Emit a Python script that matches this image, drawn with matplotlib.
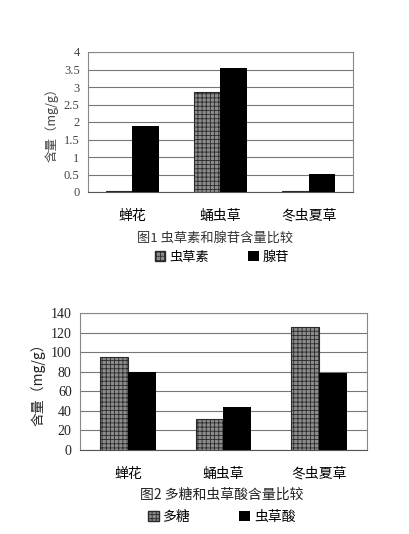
import numpy as np
import matplotlib.pyplot as plt
from matplotlib.patches import Patch

plt.rcParams['font.family'] = ['Noto Sans CJK SC', 'DejaVu Sans']
plt.rcParams['hatch.linewidth'] = 0.6

# 图1 数据
cats = ['蝉花', '蛹虫草', '冬虫夏草']
cordycepin = [0.02, 2.85, 0.03]
adenosine = [1.9, 3.55, 0.52]

# 图2 数据
polysaccharide = [95, 32, 126]
cordycepic_acid = [80, 44, 79]

W, H = 410, 534
fig = plt.figure(figsize=(W / 100, H / 100), dpi=100)


def px_axes(left, top, right, bottom):
    return fig.add_axes([left / W, 1 - bottom / H, (right - left) / W, (bottom - top) / H])


def draw_bars(ax, s1, s2, width):
    x = np.arange(len(cats))
    ax.bar(x - width / 2, s1, width, facecolor='#8c8c8c', edgecolor='#2a2a2a',
           hatch='++++', linewidth=0.8, zorder=3)
    ax.bar(x + width / 2, s2, width, color='black', zorder=3)
    ax.set_xlim(-0.5, len(cats) - 0.5)
    ax.set_xticks(x)
    ax.set_xticklabels(cats, fontsize=10)
    ax.tick_params(axis='x', length=0, pad=12)
    ax.tick_params(axis='y', length=0, labelsize=9, colors='#444', pad=6)
    ax.yaxis.grid(True, color='#777', linewidth=0.8, zorder=0)
    for s in ax.spines.values():
        s.set_color('#888')
        s.set_linewidth(0.8)
    ax.spines['bottom'].set_color('#555')
    for lab in ax.get_yticklabels():
        lab.set_fontfamily('Liberation Serif')


# 图1
ax1 = px_axes(88, 52, 353, 192)
draw_bars(ax1, cordycepin, adenosine, 0.3)
ax1.set_ylim(0, 4)
ax1.set_yticks(np.arange(0, 4.01, 0.5))
ax1.set_yticklabels(['0', '0.5', '1', '1.5', '2', '2.5', '3', '3.5', '4'])
for lab in ax1.get_yticklabels():
    lab.set_fontfamily('Liberation Serif')
ax1.set_ylabel('含量（mg/g）', fontsize=9, color='#444', labelpad=4)
fig.text(215 / W, 1 - 238 / H, '图1 虫草素和腺苷含量比较', ha='center', va='center', fontsize=9.5, color='#333')
fig.legend(handles=[Patch(facecolor='#8c8c8c', edgecolor='#2a2a2a', hatch='++++', label='虫草素'),
                    Patch(facecolor='black', label='腺苷')],
           loc='center', bbox_to_anchor=(222 / W, 1 - 257 / H), ncol=2, frameon=False,
           fontsize=9.5, handlelength=0.8, handleheight=0.8, columnspacing=3, handletextpad=0.3)

# 图2
ax2 = px_axes(80, 313, 367, 450)
draw_bars(ax2, polysaccharide, cordycepic_acid, 0.29)
ax2.set_ylim(0, 140)
ax2.set_yticks(np.arange(0, 141, 20))
for lab in ax2.get_yticklabels():
    lab.set_fontfamily('Liberation Serif')
ax2.tick_params(axis='y', labelsize=10, colors='#222')
ax2.set_ylabel('含量（mg/g）', fontsize=10, color='#222', labelpad=4)
fig.text(222 / W, 1 - 495 / H, '图2 多糖和虫草酸含量比较', ha='center', va='center', fontsize=10, color='#222')
fig.legend(handles=[Patch(facecolor='#8c8c8c', edgecolor='#2a2a2a', hatch='++++', label='多糖'),
                    Patch(facecolor='black', label='虫草酸')],
           loc='center', bbox_to_anchor=(222 / W, 1 - 517 / H), ncol=2, frameon=False,
           fontsize=10, handlelength=0.8, handleheight=0.8, columnspacing=3.5, handletextpad=0.3)

fig.savefig('out.png', dpi=100, facecolor='white')
